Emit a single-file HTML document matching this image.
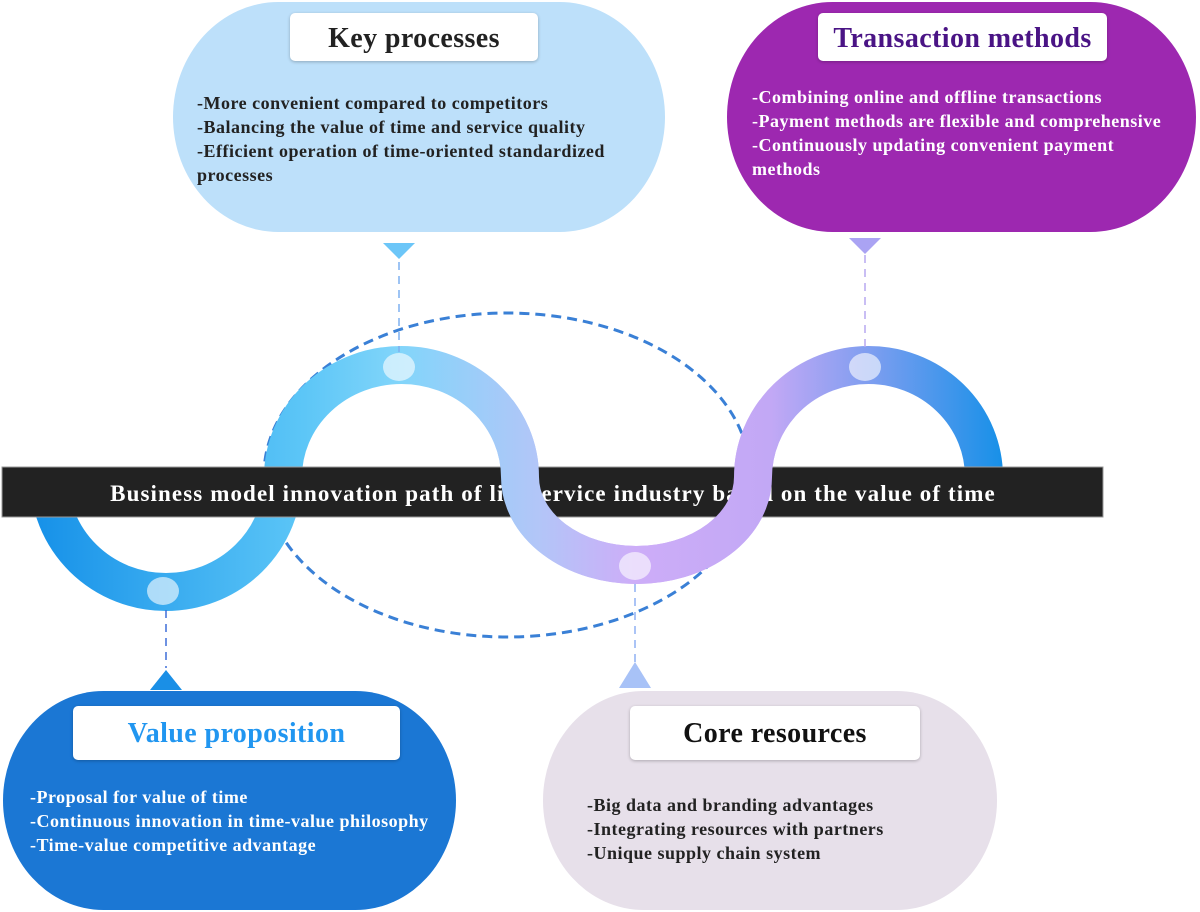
<!DOCTYPE html>
<html><head><meta charset="utf-8">
<style>
html,body{margin:0;padding:0;background:#fff;}
body{width:1200px;height:912px;position:relative;overflow:hidden;font-family:"Liberation Serif",serif;}
.box{position:absolute;border-radius:110px/120px;}
.title{position:absolute;background:#fff;border-radius:5px;box-shadow:0 1px 3px rgba(0,0,0,0.25);font-weight:bold;font-size:28px;letter-spacing:0.4px;text-align:center;}
.txt{position:absolute;font-weight:bold;font-size:18px;letter-spacing:0.5px;line-height:24px;white-space:nowrap;}
svg{position:absolute;left:0;top:0;}
</style></head><body>

<div class="box" style="left:173px;top:2px;width:492px;height:230px;background:#bde0fa;"></div>
<div class="title" style="left:290px;top:13px;width:248px;height:48px;line-height:52px;color:#222;">Key processes</div>
<div class="txt" style="left:197px;top:91px;color:#222;">-More convenient compared to competitors<br>-Balancing the value of time and service quality<br>-Efficient operation of time-oriented standardized<br>processes</div>

<div class="box" style="left:727px;top:2px;width:469px;height:230px;background:#9d28b0;"></div>
<div class="title" style="left:818px;top:13px;width:289px;height:48px;line-height:52px;color:#4a1485;">Transaction methods</div>
<div class="txt" style="left:752px;top:85px;color:#fff;">-Combining online and offline transactions<br>-Payment methods are flexible and comprehensive<br>-Continuously updating convenient payment<br>methods</div>

<div class="box" style="left:3px;top:691px;width:453px;height:219px;background:#1b77d4;"></div>
<div class="title" style="left:73px;top:706px;width:327px;height:54px;line-height:56px;color:#2196f0;">Value proposition</div>
<div class="txt" style="left:30px;top:785px;color:#fff;">-Proposal for value of time<br>-Continuous innovation in time-value philosophy<br>-Time-value competitive advantage</div>

<div class="box" style="left:543px;top:691px;width:454px;height:219px;background:#e7e0ea;"></div>
<div class="title" style="left:630px;top:706px;width:290px;height:54px;line-height:56px;color:#111;">Core resources</div>
<div class="txt" style="left:587px;top:793px;color:#222;">-Big data and branding advantages<br>-Integrating resources with partners<br>-Unique supply chain system</div>

<svg width="1200" height="912" viewBox="0 0 1200 912">
<defs>
<linearGradient id="g" gradientUnits="userSpaceOnUse" x1="30" y1="0" x2="1005" y2="0">
<stop offset="0" stop-color="#1590e8"/>
<stop offset="0.28" stop-color="#5cc6f7"/>
<stop offset="0.38" stop-color="#82d5fa"/>
<stop offset="0.52" stop-color="#b2c6f8"/>
<stop offset="0.62" stop-color="#cdadf8"/>
<stop offset="0.76" stop-color="#c2a8f5"/>
<stop offset="0.86" stop-color="#7f9ef0"/>
<stop offset="1" stop-color="#1590e8"/>
</linearGradient>
<clipPath id="over"><rect x="480" y="400" width="315" height="200"/></clipPath>
</defs>
<ellipse cx="507" cy="475" rx="243" ry="162" fill="none" stroke="#3a80d6" stroke-width="3" stroke-dasharray="10 6"/>
<path d="M49 477 A117 115 0 0 0 283 477 A118.5 112 0 0 1 520 477 A116.5 88 0 0 0 753 477 A115.5 112 0 0 1 984 477" fill="none" stroke="url(#g)" stroke-width="38"/>
<rect x="2" y="467" width="1101" height="50" fill="#222" stroke="#999" stroke-width="1"/>
<text x="553" y="501" text-anchor="middle" font-family="Liberation Serif, serif" font-weight="bold" font-size="23" letter-spacing="1.1" fill="#fff">Business model innovation path of life service industry based on the value of time</text>
<g clip-path="url(#over)">
<path d="M49 477 A117 115 0 0 0 283 477 A118.5 112 0 0 1 520 477 A116.5 88 0 0 0 753 477 A115.5 112 0 0 1 984 477" fill="none" stroke="url(#g)" stroke-width="38"/>
</g>
<g fill="#fff" opacity="0.6">
<ellipse cx="163" cy="591" rx="16" ry="14"/>
<ellipse cx="399" cy="367" rx="16" ry="14"/>
<ellipse cx="635" cy="566" rx="16" ry="14"/>
<ellipse cx="865" cy="367" rx="16" ry="14"/>
</g>
<g stroke-width="1.5" stroke-dasharray="8 6" fill="none">
<line x1="399" y1="262" x2="399" y2="352" stroke="#7fb0f0"/>
<line x1="865" y1="255" x2="865" y2="352" stroke="#b7a9f0"/>
<line x1="166" y1="610" x2="166" y2="668" stroke="#3f6fd8"/>
<line x1="635" y1="584" x2="635" y2="662" stroke="#8fb0f4"/>
</g>
<polygon points="383,243 415,243 399,259" fill="#6cc6f8"/>
<polygon points="849,238 881,238 865,254" fill="#aaa3f3"/>
<polygon points="150,690 182,690 166,670" fill="#1a8fe6"/>
<polygon points="619,688 651,688 635,662" fill="#a8c2f7"/>
</svg>
</body></html>
